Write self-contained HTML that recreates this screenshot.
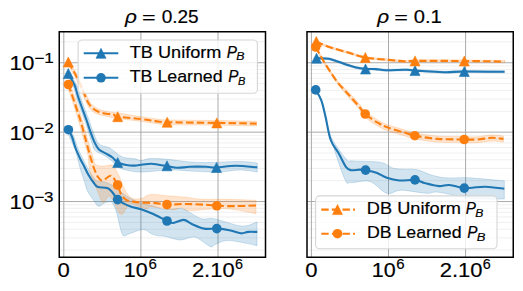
<!DOCTYPE html><html><head><meta charset="utf-8"><style>html,body{margin:0;padding:0;background:#fff;width:523px;height:291px;overflow:hidden}</style></head><body><svg width="523" height="291" viewBox="0 0 523 291" style="display:block">
<rect width="523" height="291" fill="#ffffff"/>
<line x1="59.25" x2="265.5" y1="250.06" y2="250.06" stroke="#ececec" stroke-width="0.8"/>
<line x1="59.25" x2="265.5" y1="237.84" y2="237.84" stroke="#ececec" stroke-width="0.8"/>
<line x1="59.25" x2="265.5" y1="229.17" y2="229.17" stroke="#ececec" stroke-width="0.8"/>
<line x1="59.25" x2="265.5" y1="222.44" y2="222.44" stroke="#ececec" stroke-width="0.8"/>
<line x1="59.25" x2="265.5" y1="216.95" y2="216.95" stroke="#ececec" stroke-width="0.8"/>
<line x1="59.25" x2="265.5" y1="212.30" y2="212.30" stroke="#ececec" stroke-width="0.8"/>
<line x1="59.25" x2="265.5" y1="208.28" y2="208.28" stroke="#ececec" stroke-width="0.8"/>
<line x1="59.25" x2="265.5" y1="204.73" y2="204.73" stroke="#ececec" stroke-width="0.8"/>
<line x1="59.25" x2="265.5" y1="180.66" y2="180.66" stroke="#ececec" stroke-width="0.8"/>
<line x1="59.25" x2="265.5" y1="168.44" y2="168.44" stroke="#ececec" stroke-width="0.8"/>
<line x1="59.25" x2="265.5" y1="159.77" y2="159.77" stroke="#ececec" stroke-width="0.8"/>
<line x1="59.25" x2="265.5" y1="153.04" y2="153.04" stroke="#ececec" stroke-width="0.8"/>
<line x1="59.25" x2="265.5" y1="147.55" y2="147.55" stroke="#ececec" stroke-width="0.8"/>
<line x1="59.25" x2="265.5" y1="142.90" y2="142.90" stroke="#ececec" stroke-width="0.8"/>
<line x1="59.25" x2="265.5" y1="138.88" y2="138.88" stroke="#ececec" stroke-width="0.8"/>
<line x1="59.25" x2="265.5" y1="135.33" y2="135.33" stroke="#ececec" stroke-width="0.8"/>
<line x1="59.25" x2="265.5" y1="111.26" y2="111.26" stroke="#ececec" stroke-width="0.8"/>
<line x1="59.25" x2="265.5" y1="99.04" y2="99.04" stroke="#ececec" stroke-width="0.8"/>
<line x1="59.25" x2="265.5" y1="90.37" y2="90.37" stroke="#ececec" stroke-width="0.8"/>
<line x1="59.25" x2="265.5" y1="83.64" y2="83.64" stroke="#ececec" stroke-width="0.8"/>
<line x1="59.25" x2="265.5" y1="78.15" y2="78.15" stroke="#ececec" stroke-width="0.8"/>
<line x1="59.25" x2="265.5" y1="73.50" y2="73.50" stroke="#ececec" stroke-width="0.8"/>
<line x1="59.25" x2="265.5" y1="69.48" y2="69.48" stroke="#ececec" stroke-width="0.8"/>
<line x1="59.25" x2="265.5" y1="65.93" y2="65.93" stroke="#ececec" stroke-width="0.8"/>
<line x1="59.25" x2="265.5" y1="41.86" y2="41.86" stroke="#ececec" stroke-width="0.8"/>
<line x1="59.25" x2="265.5" y1="62.75" y2="62.75" stroke="#aaaaaa" stroke-width="1"/>
<line x1="59.25" x2="265.5" y1="132.15" y2="132.15" stroke="#aaaaaa" stroke-width="1"/>
<line x1="59.25" x2="265.5" y1="201.55" y2="201.55" stroke="#aaaaaa" stroke-width="1"/>
<line x1="63.8" x2="63.8" y1="31.75" y2="257.25" stroke="#aaaaaa" stroke-width="1"/>
<line x1="140.9" x2="140.9" y1="31.75" y2="257.25" stroke="#aaaaaa" stroke-width="1"/>
<line x1="218.0" x2="218.0" y1="31.75" y2="257.25" stroke="#aaaaaa" stroke-width="1"/>
<path d="M70.00,73.00 C71.08,74.95 75.08,81.87 76.50,84.70 C77.92,87.53 77.67,87.45 78.50,90.00 C79.33,92.55 79.75,95.00 81.50,100.00 C83.25,105.00 87.17,115.00 89.00,120.00 C90.83,125.00 90.88,126.05 92.50,130.00 C94.12,133.95 95.83,140.72 98.70,143.70 C101.57,146.68 105.82,145.72 109.70,147.90 C113.58,150.08 117.78,154.98 122.00,156.80 C126.22,158.62 131.83,158.17 135.00,158.80 C138.17,159.43 138.63,160.63 141.00,160.60 C143.37,160.57 146.47,158.93 149.20,158.60 C151.93,158.27 153.93,158.43 157.40,158.60 C160.87,158.77 164.57,159.03 170.00,159.60 C175.43,160.17 183.33,161.52 190.00,162.00 C196.67,162.48 201.72,162.58 210.00,162.50 C218.28,162.42 231.82,161.42 239.70,161.50 C247.58,161.58 254.37,162.75 257.30,163.00 L257.30,172.00 C254.42,171.67 246.55,170.00 240.00,170.00 C233.45,170.00 226.33,171.83 218.00,172.00 C209.67,172.17 198.00,171.33 190.00,171.00 C182.00,170.67 178.17,169.83 170.00,170.00 C161.83,170.17 148.33,172.00 141.00,172.00 C133.67,172.00 129.83,170.83 126.00,170.00 C122.17,169.17 120.48,168.63 118.00,167.00 C115.52,165.37 113.62,162.25 111.10,160.20 C108.58,158.15 105.53,156.30 102.90,154.70 C100.27,153.10 97.12,152.55 95.30,150.60 C93.48,148.65 93.25,146.43 92.00,143.00 C90.75,139.57 89.05,133.83 87.80,130.00 C86.55,126.17 86.27,125.00 84.50,120.00 C82.73,115.00 78.87,105.00 77.20,100.00 C75.53,95.00 75.28,92.50 74.50,90.00 C73.72,87.50 73.75,87.67 72.50,85.00 C71.25,82.33 67.92,75.83 67.00,74.00 Z" fill="#1f77b4" fill-opacity="0.2" stroke="#1f77b4" stroke-opacity="0.2" stroke-width="1" stroke-linejoin="round"/>
<path d="M70.00,129.00 C70.67,130.33 72.70,133.83 74.00,137.00 C75.30,140.17 76.38,144.50 77.80,148.00 C79.22,151.50 81.13,155.17 82.50,158.00 C83.87,160.83 84.50,162.25 86.00,165.00 C87.50,167.75 89.67,171.83 91.50,174.50 C93.33,177.17 94.75,179.75 97.00,181.00 C99.25,182.25 102.50,181.33 105.00,182.00 C107.50,182.67 109.83,183.67 112.00,185.00 C114.17,186.33 115.00,187.83 118.00,190.00 C121.00,192.17 126.17,195.83 130.00,198.00 C133.83,200.17 137.17,201.67 141.00,203.00 C144.83,204.33 149.00,204.90 153.00,206.00 C157.00,207.10 160.25,209.17 165.00,209.60 C169.75,210.03 177.03,207.92 181.50,208.60 C185.97,209.28 188.37,211.98 191.80,213.70 C195.23,215.42 198.23,218.03 202.10,218.90 C205.97,219.77 208.38,217.70 215.00,218.90 C221.62,220.10 234.80,225.58 241.80,226.10 C248.80,226.62 254.47,222.68 257.00,222.00 L257.00,245.70 C255.50,245.35 252.93,244.47 248.00,243.60 C243.07,242.73 232.90,240.33 227.40,240.50 C221.90,240.67 217.83,243.57 215.00,244.60 C212.17,245.63 213.40,247.83 210.40,246.70 C207.40,245.57 200.40,239.33 197.00,237.80 C193.60,236.27 192.83,237.13 190.00,237.50 C187.17,237.87 184.17,240.18 180.00,240.00 C175.83,239.82 168.77,237.12 165.00,236.40 C161.23,235.68 159.70,236.17 157.40,235.70 C155.10,235.23 153.60,234.63 151.20,233.60 C148.80,232.57 146.63,229.48 143.00,229.50 C139.37,229.52 132.82,232.87 129.40,233.70 C125.98,234.53 124.65,238.08 122.50,234.50 C120.35,230.92 118.22,217.50 116.50,212.20 C114.78,206.90 113.63,204.42 112.20,202.70 C110.77,200.98 109.38,201.77 107.90,201.90 C106.42,202.03 104.88,202.78 103.30,203.50 C101.72,204.22 100.28,207.12 98.40,206.20 C96.52,205.28 93.90,200.70 92.00,198.00 C90.10,195.30 88.33,193.00 87.00,190.00 C85.67,187.00 85.07,183.33 84.00,180.00 C82.93,176.67 81.60,173.33 80.60,170.00 C79.60,166.67 78.88,163.33 78.00,160.00 C77.12,156.67 76.47,153.33 75.30,150.00 C74.13,146.67 72.38,143.17 71.00,140.00 C69.62,136.83 67.67,132.50 67.00,131.00 Z" fill="#1f77b4" fill-opacity="0.2" stroke="#1f77b4" stroke-opacity="0.2" stroke-width="1" stroke-linejoin="round"/>
<path d="M69.50,62.00 C70.62,63.83 74.15,69.25 76.20,73.00 C78.25,76.75 80.17,81.00 81.80,84.50 C83.43,88.00 84.58,91.00 86.00,94.00 C87.42,97.00 88.92,100.42 90.30,102.50 C91.68,104.58 92.80,105.33 94.30,106.50 C95.80,107.67 97.18,108.67 99.30,109.50 C101.42,110.33 103.93,110.92 107.00,111.50 C110.07,112.08 112.05,112.13 117.70,113.00 C123.35,113.87 134.62,115.73 140.90,116.70 C147.18,117.67 151.02,118.27 155.40,118.80 C159.78,119.33 156.97,119.60 167.20,119.90 C177.43,120.20 201.90,120.37 216.80,120.60 C231.70,120.83 249.97,121.18 256.60,121.30 L256.60,125.90 C249.97,125.78 231.70,125.42 216.80,125.20 C201.90,124.98 177.43,124.90 167.20,124.60 C156.97,124.30 159.78,123.95 155.40,123.40 C151.02,122.85 147.18,122.12 140.90,121.30 C134.62,120.48 123.52,119.35 117.70,118.50 C111.88,117.65 109.37,116.92 106.00,116.20 C102.63,115.48 99.92,115.18 97.50,114.20 C95.08,113.22 93.22,111.92 91.50,110.30 C89.78,108.68 88.58,107.02 87.20,104.50 C85.82,101.98 84.53,98.37 83.20,95.20 C81.87,92.03 80.77,88.95 79.20,85.50 C77.63,82.05 75.83,78.33 73.80,74.50 C71.77,70.67 68.13,64.50 67.00,62.50 Z" fill="#ff7f0e" fill-opacity="0.2" stroke="#ff7f0e" stroke-opacity="0.2" stroke-width="1" stroke-linejoin="round"/>
<path d="M70.00,84.00 C70.95,86.67 73.65,94.00 75.70,100.00 C77.75,106.00 80.28,113.33 82.30,120.00 C84.32,126.67 86.02,133.83 87.80,140.00 C89.58,146.17 91.63,152.83 93.00,157.00 C94.37,161.17 94.00,163.50 96.00,165.00 C98.00,166.50 102.25,165.92 105.00,166.00 C107.75,166.08 110.10,163.75 112.50,165.50 C114.90,167.25 117.75,173.25 119.40,176.50 C121.05,179.75 120.53,181.50 122.40,185.00 C124.27,188.50 127.50,195.23 130.60,197.50 C133.70,199.77 138.25,198.93 141.00,198.60 C143.75,198.27 145.05,196.20 147.10,195.50 C149.15,194.80 149.48,194.32 153.30,194.40 C157.12,194.48 164.62,195.53 170.00,196.00 C175.38,196.47 180.25,196.65 185.60,197.20 C190.95,197.75 195.53,198.95 202.10,199.30 C208.67,199.65 216.02,199.13 225.00,199.30 C233.98,199.47 250.83,200.13 256.00,200.30 L256.00,213.70 C250.83,212.85 236.05,209.12 225.00,208.60 C213.95,208.08 196.95,210.78 189.70,210.60 C182.45,210.42 184.25,207.67 181.50,207.50 C178.75,207.33 178.25,209.72 173.20,209.60 C168.15,209.48 155.55,206.92 151.20,206.80 C146.85,206.68 148.97,208.90 147.10,208.90 C145.23,208.90 142.93,207.58 140.00,206.80 C137.07,206.02 132.68,202.92 129.50,204.20 C126.32,205.48 123.77,215.37 120.90,214.50 C118.03,213.63 114.45,202.00 112.30,199.00 C110.15,196.00 109.57,195.92 108.00,196.50 C106.43,197.08 104.75,203.65 102.90,202.50 C101.05,201.35 99.05,194.68 96.90,189.60 C94.75,184.52 91.48,177.77 90.00,172.00 C88.52,166.23 89.03,160.33 88.00,155.00 C86.97,149.67 85.42,145.83 83.80,140.00 C82.18,134.17 80.27,126.67 78.30,120.00 C76.33,113.33 73.88,105.67 72.00,100.00 C70.12,94.33 67.83,88.33 67.00,86.00 Z" fill="#ff7f0e" fill-opacity="0.2" stroke="#ff7f0e" stroke-opacity="0.2" stroke-width="1" stroke-linejoin="round"/>
<path d="M68.30,73.50 C69.32,75.37 73.08,81.95 74.40,84.70 C75.72,87.45 75.40,87.45 76.20,90.00 C77.00,92.55 77.48,95.00 79.20,100.00 C80.92,105.00 84.73,115.00 86.50,120.00 C88.27,125.00 88.45,126.27 89.80,130.00 C91.15,133.73 93.12,139.20 94.60,142.40 C96.08,145.60 96.87,147.37 98.70,149.20 C100.53,151.03 103.30,152.02 105.60,153.40 C107.90,154.78 110.48,155.98 112.50,157.50 C114.52,159.02 115.42,161.25 117.70,162.50 C119.98,163.75 123.37,164.48 126.20,165.00 C129.03,165.52 132.25,165.65 134.70,165.60 C137.15,165.55 138.15,165.02 140.90,164.70 C143.65,164.38 148.27,163.70 151.20,163.70 C154.13,163.70 155.87,164.32 158.50,164.70 C161.13,165.08 163.85,165.48 167.00,166.00 C170.15,166.52 173.62,167.67 177.40,167.80 C181.18,167.93 184.90,166.97 189.70,166.80 C194.50,166.63 201.73,166.68 206.20,166.80 C210.67,166.92 211.60,167.67 216.50,167.50 C221.40,167.33 228.80,165.83 235.60,165.80 C242.40,165.77 253.68,167.05 257.30,167.30" fill="none" stroke="#1f77b4" stroke-width="2.1" stroke-linejoin="round"/>
<path d="M68.40,129.70 C69.02,130.92 70.92,133.95 72.10,137.00 C73.28,140.05 74.13,144.33 75.50,148.00 C76.87,151.67 78.97,156.17 80.30,159.00 C81.63,161.83 82.15,162.38 83.50,165.00 C84.85,167.62 86.67,171.70 88.40,174.70 C90.13,177.70 92.30,180.93 93.90,183.00 C95.50,185.07 95.78,186.28 98.00,187.10 C100.22,187.92 104.82,187.05 107.20,187.90 C109.58,188.75 110.57,190.25 112.30,192.20 C114.03,194.15 115.73,197.73 117.60,199.60 C119.47,201.47 121.23,202.20 123.50,203.40 C125.77,204.60 128.28,205.83 131.20,206.80 C134.12,207.77 137.32,208.00 141.00,209.20 C144.68,210.40 148.97,212.03 153.30,214.00 C157.63,215.97 163.68,219.50 167.00,221.00 C170.32,222.50 170.43,223.18 173.20,223.00 C175.97,222.82 180.50,219.73 183.60,219.90 C186.70,220.07 188.37,222.55 191.80,224.00 C195.23,225.45 200.03,227.83 204.20,228.60 C208.37,229.37 212.60,228.33 216.80,228.60 C221.00,228.87 225.40,229.42 229.40,230.20 C233.40,230.98 237.70,233.02 240.80,233.30 C243.90,233.58 245.25,232.13 248.00,231.90 C250.75,231.67 255.75,231.90 257.30,231.90" fill="none" stroke="#1f77b4" stroke-width="2.1" stroke-linejoin="round"/>
<path d="M68.30,62.00 C69.42,63.95 72.97,69.87 75.00,73.70 C77.03,77.53 78.90,81.52 80.50,85.00 C82.10,88.48 83.23,91.52 84.60,94.60 C85.97,97.68 87.32,101.20 88.70,103.50 C90.08,105.80 91.28,107.02 92.90,108.40 C94.52,109.78 96.12,110.90 98.40,111.80 C100.68,112.70 104.08,113.35 106.60,113.80 C109.12,114.25 111.65,114.02 113.50,114.50 C115.35,114.98 113.13,115.95 117.70,116.70 C122.27,117.45 134.62,118.27 140.90,119.00 C147.18,119.73 151.02,120.57 155.40,121.10 C159.78,121.63 156.97,121.90 167.20,122.20 C177.43,122.50 201.90,122.67 216.80,122.90 C231.70,123.13 249.97,123.48 256.60,123.60" fill="none" stroke="#ff7f0e" stroke-width="2.1" stroke-linejoin="round" stroke-dasharray="7.4,3.2"/>
<path d="M68.40,84.50 C69.28,87.08 71.72,94.08 73.70,100.00 C75.68,105.92 78.28,113.33 80.30,120.00 C82.32,126.67 83.97,133.33 85.80,140.00 C87.63,146.67 89.72,154.72 91.30,160.00 C92.88,165.28 94.07,168.72 95.30,171.70 C96.53,174.68 97.43,176.42 98.70,177.90 C99.97,179.38 100.83,180.95 102.90,180.60 C104.97,180.25 108.65,175.07 111.10,175.80 C113.55,176.53 115.97,181.98 117.60,185.00 C119.23,188.02 119.48,191.42 120.90,193.90 C122.32,196.38 124.08,198.62 126.10,199.90 C128.12,201.18 130.52,201.17 133.00,201.60 C135.48,202.03 137.27,202.25 141.00,202.50 C144.73,202.75 151.07,202.75 155.40,203.10 C159.73,203.45 161.97,204.45 167.00,204.60 C172.03,204.75 179.07,203.97 185.60,204.00 C192.13,204.03 201.00,204.50 206.20,204.80 C211.40,205.10 211.90,205.58 216.80,205.80 C221.70,206.02 229.03,206.15 235.60,206.10 C242.17,206.05 252.77,205.60 256.20,205.50" fill="none" stroke="#ff7f0e" stroke-width="2.1" stroke-linejoin="round" stroke-dasharray="7.4,3.2"/>
<polygon points="68.3,68.5 63.3,78.5 73.3,78.5" fill="#1f77b4" stroke="#1f77b4" stroke-width="0.6" stroke-linejoin="miter"/>
<polygon points="117.7,157.5 112.7,167.5 122.7,167.5" fill="#1f77b4" stroke="#1f77b4" stroke-width="0.6" stroke-linejoin="miter"/>
<polygon points="167.0,160.8 162.0,170.8 172.0,170.8" fill="#1f77b4" stroke="#1f77b4" stroke-width="0.6" stroke-linejoin="miter"/>
<polygon points="216.5,162.5 211.5,172.5 221.5,172.5" fill="#1f77b4" stroke="#1f77b4" stroke-width="0.6" stroke-linejoin="miter"/>
<circle cx="68.4" cy="129.7" r="4.8" fill="#1f77b4"/>
<circle cx="117.6" cy="199.6" r="4.8" fill="#1f77b4"/>
<circle cx="167.0" cy="221.0" r="4.8" fill="#1f77b4"/>
<circle cx="216.8" cy="228.6" r="4.8" fill="#1f77b4"/>
<polygon points="68.3,57.0 63.3,67.0 73.3,67.0" fill="#ff7f0e" stroke="#ff7f0e" stroke-width="0.6" stroke-linejoin="miter"/>
<polygon points="117.7,111.7 112.7,121.7 122.7,121.7" fill="#ff7f0e" stroke="#ff7f0e" stroke-width="0.6" stroke-linejoin="miter"/>
<polygon points="167.2,117.2 162.2,127.2 172.2,127.2" fill="#ff7f0e" stroke="#ff7f0e" stroke-width="0.6" stroke-linejoin="miter"/>
<polygon points="216.8,117.9 211.8,127.9 221.8,127.9" fill="#ff7f0e" stroke="#ff7f0e" stroke-width="0.6" stroke-linejoin="miter"/>
<circle cx="68.4" cy="84.5" r="4.8" fill="#ff7f0e"/>
<circle cx="117.6" cy="185.0" r="4.8" fill="#ff7f0e"/>
<circle cx="167.0" cy="204.6" r="4.8" fill="#ff7f0e"/>
<circle cx="216.8" cy="205.8" r="4.8" fill="#ff7f0e"/>
<rect x="78.1" y="40.0" width="179.3" height="53.2" rx="4" ry="4" fill="#ffffff" fill-opacity="0.8" stroke="#d5d5d5" stroke-width="1.1"/>
<line x1="83.7" x2="118.3" y1="53.3" y2="53.3" stroke="#1f77b4" stroke-width="2.1"/>
<polygon points="101.0,48.3 96.0,58.3 106.0,58.3" fill="#1f77b4" stroke="#1f77b4" stroke-width="0.6" stroke-linejoin="miter"/>
<line x1="83.7" x2="118.3" y1="77.8" y2="77.8" stroke="#1f77b4" stroke-width="2.1"/>
<circle cx="101.0" cy="77.8" r="4.8" fill="#1f77b4"/>
<rect x="59.25" y="31.75" width="206.25" height="225.5" fill="none" stroke="#000" stroke-width="1.5"/>
<line x1="307.0" x2="513.25" y1="250.06" y2="250.06" stroke="#ececec" stroke-width="0.8"/>
<line x1="307.0" x2="513.25" y1="237.84" y2="237.84" stroke="#ececec" stroke-width="0.8"/>
<line x1="307.0" x2="513.25" y1="229.17" y2="229.17" stroke="#ececec" stroke-width="0.8"/>
<line x1="307.0" x2="513.25" y1="222.44" y2="222.44" stroke="#ececec" stroke-width="0.8"/>
<line x1="307.0" x2="513.25" y1="216.95" y2="216.95" stroke="#ececec" stroke-width="0.8"/>
<line x1="307.0" x2="513.25" y1="212.30" y2="212.30" stroke="#ececec" stroke-width="0.8"/>
<line x1="307.0" x2="513.25" y1="208.28" y2="208.28" stroke="#ececec" stroke-width="0.8"/>
<line x1="307.0" x2="513.25" y1="204.73" y2="204.73" stroke="#ececec" stroke-width="0.8"/>
<line x1="307.0" x2="513.25" y1="180.66" y2="180.66" stroke="#ececec" stroke-width="0.8"/>
<line x1="307.0" x2="513.25" y1="168.44" y2="168.44" stroke="#ececec" stroke-width="0.8"/>
<line x1="307.0" x2="513.25" y1="159.77" y2="159.77" stroke="#ececec" stroke-width="0.8"/>
<line x1="307.0" x2="513.25" y1="153.04" y2="153.04" stroke="#ececec" stroke-width="0.8"/>
<line x1="307.0" x2="513.25" y1="147.55" y2="147.55" stroke="#ececec" stroke-width="0.8"/>
<line x1="307.0" x2="513.25" y1="142.90" y2="142.90" stroke="#ececec" stroke-width="0.8"/>
<line x1="307.0" x2="513.25" y1="138.88" y2="138.88" stroke="#ececec" stroke-width="0.8"/>
<line x1="307.0" x2="513.25" y1="135.33" y2="135.33" stroke="#ececec" stroke-width="0.8"/>
<line x1="307.0" x2="513.25" y1="111.26" y2="111.26" stroke="#ececec" stroke-width="0.8"/>
<line x1="307.0" x2="513.25" y1="99.04" y2="99.04" stroke="#ececec" stroke-width="0.8"/>
<line x1="307.0" x2="513.25" y1="90.37" y2="90.37" stroke="#ececec" stroke-width="0.8"/>
<line x1="307.0" x2="513.25" y1="83.64" y2="83.64" stroke="#ececec" stroke-width="0.8"/>
<line x1="307.0" x2="513.25" y1="78.15" y2="78.15" stroke="#ececec" stroke-width="0.8"/>
<line x1="307.0" x2="513.25" y1="73.50" y2="73.50" stroke="#ececec" stroke-width="0.8"/>
<line x1="307.0" x2="513.25" y1="69.48" y2="69.48" stroke="#ececec" stroke-width="0.8"/>
<line x1="307.0" x2="513.25" y1="65.93" y2="65.93" stroke="#ececec" stroke-width="0.8"/>
<line x1="307.0" x2="513.25" y1="41.86" y2="41.86" stroke="#ececec" stroke-width="0.8"/>
<line x1="307.0" x2="513.25" y1="62.75" y2="62.75" stroke="#aaaaaa" stroke-width="1"/>
<line x1="307.0" x2="513.25" y1="132.15" y2="132.15" stroke="#aaaaaa" stroke-width="1"/>
<line x1="307.0" x2="513.25" y1="201.55" y2="201.55" stroke="#aaaaaa" stroke-width="1"/>
<line x1="311.4" x2="311.4" y1="31.75" y2="257.25" stroke="#aaaaaa" stroke-width="1"/>
<line x1="388.5" x2="388.5" y1="31.75" y2="257.25" stroke="#aaaaaa" stroke-width="1"/>
<line x1="465.6" x2="465.6" y1="31.75" y2="257.25" stroke="#aaaaaa" stroke-width="1"/>
<path d="M316.50,57.20 C318.50,57.30 324.58,57.12 328.50,57.80 C332.42,58.48 337.08,60.35 340.00,61.30 C342.92,62.25 343.33,62.62 346.00,63.50 C348.67,64.38 352.75,65.85 356.00,66.60 C359.25,67.35 362.23,67.75 365.50,68.00 C368.77,68.25 372.20,67.90 375.60,68.10 C379.00,68.30 380.75,69.08 385.90,69.20 C391.05,69.32 401.68,68.73 406.50,68.80 C411.32,68.87 411.62,69.37 414.80,69.60 C417.98,69.83 420.37,69.93 425.60,70.20 C430.83,70.47 439.72,71.15 446.20,71.20 C452.68,71.25 454.78,70.57 464.50,70.50 C474.22,70.43 497.83,70.75 504.50,70.80 L504.50,72.80 C497.83,72.75 474.22,72.43 464.50,72.50 C454.78,72.57 452.68,73.25 446.20,73.20 C439.72,73.15 430.83,72.47 425.60,72.20 C420.37,71.93 417.98,71.83 414.80,71.60 C411.62,71.37 411.32,70.87 406.50,70.80 C401.68,70.73 391.05,71.32 385.90,71.20 C380.75,71.08 379.00,70.30 375.60,70.10 C372.20,69.90 368.77,70.25 365.50,70.00 C362.23,69.75 359.25,69.35 356.00,68.60 C352.75,67.85 348.67,66.38 346.00,65.50 C343.33,64.62 342.92,64.25 340.00,63.30 C337.08,62.35 332.42,60.48 328.50,59.80 C324.58,59.12 318.50,59.30 316.50,59.20 Z" fill="#1f77b4" fill-opacity="0.2" stroke="#1f77b4" stroke-opacity="0.2" stroke-width="1" stroke-linejoin="round"/>
<path d="M316.30,40.50 C318.18,41.33 322.28,43.65 327.60,45.50 C332.92,47.35 341.92,49.77 348.20,51.60 C354.48,53.43 358.60,55.28 365.30,56.50 C372.00,57.72 381.53,58.23 388.40,58.90 C395.27,59.57 402.15,60.33 406.50,60.50 C410.85,60.67 404.87,59.98 414.50,59.90 C424.13,59.82 449.30,59.90 464.30,60.00 C479.30,60.10 497.80,60.42 504.50,60.50 L504.50,62.50 C497.80,62.42 479.30,62.10 464.30,62.00 C449.30,61.90 424.13,61.82 414.50,61.90 C404.87,61.98 410.85,62.67 406.50,62.50 C402.15,62.33 395.27,61.57 388.40,60.90 C381.53,60.23 372.00,59.72 365.30,58.50 C358.60,57.28 354.48,55.43 348.20,53.60 C341.92,51.77 332.92,49.35 327.60,47.50 C322.28,45.65 318.18,43.33 316.30,42.50 Z" fill="#ff7f0e" fill-opacity="0.2" stroke="#ff7f0e" stroke-opacity="0.2" stroke-width="1" stroke-linejoin="round"/>
<path d="M315.70,88.50 C316.58,90.25 319.45,94.42 321.00,99.00 C322.55,103.58 323.40,109.80 325.00,116.00 C326.60,122.20 327.08,129.05 330.60,136.20 C334.12,143.35 342.32,154.78 346.10,158.90 C349.88,163.02 347.55,160.32 353.30,160.90 C359.05,161.48 373.65,161.12 380.60,162.40 C387.55,163.68 389.07,167.40 395.00,168.60 C400.93,169.80 410.27,168.58 416.20,169.60 C422.13,170.62 425.80,173.33 430.60,174.70 C435.40,176.07 438.73,177.28 445.00,177.80 C451.27,178.32 458.32,177.28 468.20,177.80 C478.08,178.32 498.28,180.38 504.30,180.90 L504.30,199.00 C498.98,198.92 483.30,199.62 472.40,198.50 C461.50,197.38 446.55,193.17 438.90,192.30 C431.25,191.43 432.78,193.65 426.50,193.30 C420.22,192.95 407.82,190.20 401.20,190.20 C394.58,190.20 392.00,194.75 386.80,193.30 C381.60,191.85 375.93,183.28 370.00,181.50 C364.07,179.72 355.37,182.93 351.20,182.60 C347.03,182.27 348.08,185.87 345.00,179.50 C341.92,173.13 335.87,154.65 332.70,144.40 C329.53,134.15 327.78,125.23 326.00,118.00 C324.22,110.77 323.67,105.50 322.00,101.00 C320.33,96.50 317.00,92.67 316.00,91.00 Z" fill="#1f77b4" fill-opacity="0.2" stroke="#1f77b4" stroke-opacity="0.2" stroke-width="1" stroke-linejoin="round"/>
<path d="M316.40,46.40 C317.10,47.73 318.93,51.43 320.60,54.40 C322.27,57.37 323.60,59.82 326.40,64.20 C329.20,68.58 333.63,75.98 337.40,80.70 C341.17,85.42 345.23,88.47 349.00,92.50 C352.77,96.53 357.30,101.78 360.00,104.90 C362.70,108.02 362.27,108.70 365.20,111.20 C368.13,113.70 373.73,117.60 377.60,119.90 C381.47,122.20 383.93,123.35 388.40,125.00 C392.87,126.65 400.00,128.48 404.40,129.80 C408.80,131.12 409.22,131.85 414.80,132.90 C420.38,133.95 429.67,135.47 437.90,136.10 C446.13,136.73 457.58,136.60 464.20,136.70 C470.82,136.80 472.97,136.98 477.60,136.70 C482.23,136.42 487.70,135.10 492.00,135.00 C496.30,134.90 501.50,135.92 503.40,136.10 L503.40,142.10 C501.50,141.92 496.30,140.90 492.00,141.00 C487.70,141.10 482.23,142.42 477.60,142.70 C472.97,142.98 470.82,142.80 464.20,142.70 C457.58,142.60 446.13,142.73 437.90,142.10 C429.67,141.47 420.38,139.95 414.80,138.90 C409.22,137.85 408.80,137.12 404.40,135.80 C400.00,134.48 392.87,132.65 388.40,131.00 C383.93,129.35 381.47,128.20 377.60,125.90 C373.73,123.60 368.53,120.30 365.20,117.20 C361.87,114.10 360.70,111.02 357.60,107.30 C354.50,103.58 350.17,99.13 346.60,94.90 C343.03,90.67 339.77,86.82 336.20,81.90 C332.63,76.98 328.00,69.78 325.20,65.40 C322.40,61.02 321.07,58.57 319.40,55.60 C317.73,52.63 315.90,48.93 315.20,47.60 Z" fill="#ff7f0e" fill-opacity="0.2" stroke="#ff7f0e" stroke-opacity="0.2" stroke-width="1" stroke-linejoin="round"/>
<path d="M316.50,58.20 C318.50,58.30 324.58,58.12 328.50,58.80 C332.42,59.48 337.08,61.35 340.00,62.30 C342.92,63.25 343.33,63.62 346.00,64.50 C348.67,65.38 352.75,66.85 356.00,67.60 C359.25,68.35 362.23,68.75 365.50,69.00 C368.77,69.25 372.20,68.90 375.60,69.10 C379.00,69.30 380.75,70.08 385.90,70.20 C391.05,70.32 401.68,69.73 406.50,69.80 C411.32,69.87 411.62,70.37 414.80,70.60 C417.98,70.83 420.37,70.93 425.60,71.20 C430.83,71.47 439.72,72.15 446.20,72.20 C452.68,72.25 454.78,71.57 464.50,71.50 C474.22,71.43 497.83,71.75 504.50,71.80" fill="none" stroke="#1f77b4" stroke-width="2.1" stroke-linejoin="round"/>
<path d="M315.70,89.90 C316.65,91.68 319.75,96.07 321.40,100.60 C323.05,105.13 324.05,110.53 325.60,117.10 C327.15,123.67 328.48,133.90 330.70,140.00 C332.92,146.10 336.33,149.18 338.90,153.70 C341.47,158.22 344.05,164.35 346.10,167.10 C348.15,169.85 348.97,169.78 351.20,170.20 C353.43,170.62 357.10,169.62 359.50,169.60 C361.90,169.58 362.77,169.58 365.60,170.10 C368.43,170.62 372.97,171.42 376.50,172.70 C380.03,173.98 383.02,176.50 386.80,177.80 C390.58,179.10 394.50,180.15 399.20,180.50 C403.90,180.85 410.80,179.48 415.00,179.90 C419.20,180.32 420.42,181.97 424.40,183.00 C428.38,184.03 434.77,185.77 438.90,186.10 C443.03,186.43 444.97,184.67 449.20,185.00 C453.43,185.33 460.43,187.65 464.30,188.10 C468.17,188.55 468.82,187.93 472.40,187.70 C475.98,187.47 480.48,186.52 485.80,186.70 C491.12,186.88 501.22,188.45 504.30,188.80" fill="none" stroke="#1f77b4" stroke-width="2.1" stroke-linejoin="round"/>
<path d="M316.30,41.50 C318.18,42.33 322.28,44.65 327.60,46.50 C332.92,48.35 341.92,50.77 348.20,52.60 C354.48,54.43 358.60,56.28 365.30,57.50 C372.00,58.72 381.53,59.23 388.40,59.90 C395.27,60.57 402.15,61.33 406.50,61.50 C410.85,61.67 404.87,60.98 414.50,60.90 C424.13,60.82 449.30,60.90 464.30,61.00 C479.30,61.10 497.80,61.42 504.50,61.50" fill="none" stroke="#ff7f0e" stroke-width="2.1" stroke-linejoin="round" stroke-dasharray="7.4,3.2"/>
<path d="M315.80,47.00 C316.50,48.33 318.33,52.03 320.00,55.00 C321.67,57.97 323.00,60.42 325.80,64.80 C328.60,69.18 333.13,76.48 336.80,81.30 C340.47,86.12 344.13,89.57 347.80,93.70 C351.47,97.83 355.90,102.72 358.80,106.10 C361.70,109.48 362.07,111.23 365.20,114.00 C368.33,116.77 373.73,120.40 377.60,122.70 C381.47,125.00 383.93,126.15 388.40,127.80 C392.87,129.45 400.00,131.28 404.40,132.60 C408.80,133.92 409.22,134.65 414.80,135.70 C420.38,136.75 429.67,138.27 437.90,138.90 C446.13,139.53 457.58,139.40 464.20,139.50 C470.82,139.60 472.97,139.78 477.60,139.50 C482.23,139.22 487.70,137.90 492.00,137.80 C496.30,137.70 501.50,138.72 503.40,138.90" fill="none" stroke="#ff7f0e" stroke-width="2.1" stroke-linejoin="round" stroke-dasharray="7.4,3.2"/>
<polygon points="316.5,53.2 311.5,63.2 321.5,63.2" fill="#1f77b4" stroke="#1f77b4" stroke-width="0.6" stroke-linejoin="miter"/>
<polygon points="365.5,64.0 360.5,74.0 370.5,74.0" fill="#1f77b4" stroke="#1f77b4" stroke-width="0.6" stroke-linejoin="miter"/>
<polygon points="415.0,65.6 410.0,75.6 420.0,75.6" fill="#1f77b4" stroke="#1f77b4" stroke-width="0.6" stroke-linejoin="miter"/>
<polygon points="464.3,66.5 459.3,76.5 469.3,76.5" fill="#1f77b4" stroke="#1f77b4" stroke-width="0.6" stroke-linejoin="miter"/>
<circle cx="315.7" cy="89.9" r="4.8" fill="#1f77b4"/>
<circle cx="365.6" cy="170.1" r="4.8" fill="#1f77b4"/>
<circle cx="415.0" cy="179.9" r="4.8" fill="#1f77b4"/>
<circle cx="464.3" cy="188.1" r="4.8" fill="#1f77b4"/>
<polygon points="316.3,36.5 311.3,46.5 321.3,46.5" fill="#ff7f0e" stroke="#ff7f0e" stroke-width="0.6" stroke-linejoin="miter"/>
<polygon points="365.3,52.5 360.3,62.5 370.3,62.5" fill="#ff7f0e" stroke="#ff7f0e" stroke-width="0.6" stroke-linejoin="miter"/>
<polygon points="415.0,55.9 410.0,65.9 420.0,65.9" fill="#ff7f0e" stroke="#ff7f0e" stroke-width="0.6" stroke-linejoin="miter"/>
<polygon points="464.3,56.0 459.3,66.0 469.3,66.0" fill="#ff7f0e" stroke="#ff7f0e" stroke-width="0.6" stroke-linejoin="miter"/>
<circle cx="315.8" cy="47.0" r="4.8" fill="#ff7f0e"/>
<circle cx="365.2" cy="114.0" r="4.8" fill="#ff7f0e"/>
<circle cx="414.8" cy="135.7" r="4.8" fill="#ff7f0e"/>
<circle cx="464.2" cy="139.5" r="4.8" fill="#ff7f0e"/>
<rect x="315.6" y="195.9" width="181.4" height="52.9" rx="4" ry="4" fill="#ffffff" fill-opacity="0.8" stroke="#d5d5d5" stroke-width="1.1"/>
<line x1="321.3" x2="355" y1="209.6" y2="209.6" stroke="#ff7f0e" stroke-width="2.1" stroke-dasharray="7.4,3.2"/>
<polygon points="337.5,204.6 332.5,214.6 342.5,214.6" fill="#ff7f0e" stroke="#ff7f0e" stroke-width="0.6" stroke-linejoin="miter"/>
<line x1="321.3" x2="355" y1="233.7" y2="233.7" stroke="#ff7f0e" stroke-width="2.1" stroke-dasharray="7.4,3.2"/>
<circle cx="337.5" cy="233.7" r="4.8" fill="#ff7f0e"/>
<rect x="307.0" y="31.75" width="206.25" height="225.5" fill="none" stroke="#000" stroke-width="1.5"/>
<text transform="translate(124.91,22.87) scale(1.1057,1)" font-family="Liberation Sans, sans-serif" font-size="18.73" font-style="italic" fill="#000" stroke="#000" stroke-width="0.181">ρ</text>
<text transform="translate(142.03,22.66) scale(1.4933,1)" font-family="Liberation Sans, sans-serif" font-size="15.63" font-style="normal" fill="#000" stroke="#000" stroke-width="0.134">=</text>
<text transform="translate(161.64,22.81) scale(1.0160,1)" font-family="Liberation Sans, sans-serif" font-size="18.73" font-style="normal" fill="#000" stroke="#000" stroke-width="0.197">0.25</text>
<text transform="translate(377.31,22.80) scale(1.0864,1)" font-family="Liberation Sans, sans-serif" font-size="19.07" font-style="italic" fill="#000" stroke="#000" stroke-width="0.184">ρ</text>
<text transform="translate(394.23,22.66) scale(1.4933,1)" font-family="Liberation Sans, sans-serif" font-size="15.63" font-style="normal" fill="#000" stroke="#000" stroke-width="0.134">=</text>
<text transform="translate(413.79,23.01) scale(1.0679,1)" font-family="Liberation Sans, sans-serif" font-size="18.87" font-style="normal" fill="#000" stroke="#000" stroke-width="0.187">0.1</text>
<text transform="translate(57.42,276.70) scale(1.0813,1)" font-family="Liberation Sans, sans-serif" font-size="20.42" font-style="normal" fill="#000" stroke="#000" stroke-width="0.185">0</text>
<text transform="translate(123.78,276.70) scale(1.0535,1)" font-family="Liberation Sans, sans-serif" font-size="20.42" font-style="normal" fill="#000" stroke="#000" stroke-width="0.190">10</text>
<text transform="translate(148.45,269.36) scale(1.0650,1)" font-family="Liberation Sans, sans-serif" font-size="14.08" font-style="normal" fill="#000" stroke="#000" stroke-width="0.188">6</text>
<text transform="translate(191.90,276.70) scale(1.0741,1)" font-family="Liberation Sans, sans-serif" font-size="20.42" font-style="normal" fill="#000" stroke="#000" stroke-width="0.186">2.10</text>
<text transform="translate(234.88,269.36) scale(1.0187,1)" font-family="Liberation Sans, sans-serif" font-size="14.08" font-style="normal" fill="#000" stroke="#000" stroke-width="0.196">6</text>
<text transform="translate(305.32,276.70) scale(1.0813,1)" font-family="Liberation Sans, sans-serif" font-size="20.42" font-style="normal" fill="#000" stroke="#000" stroke-width="0.185">0</text>
<text transform="translate(371.68,276.70) scale(1.0535,1)" font-family="Liberation Sans, sans-serif" font-size="20.42" font-style="normal" fill="#000" stroke="#000" stroke-width="0.190">10</text>
<text transform="translate(396.35,269.36) scale(1.0650,1)" font-family="Liberation Sans, sans-serif" font-size="14.08" font-style="normal" fill="#000" stroke="#000" stroke-width="0.188">6</text>
<text transform="translate(439.80,276.70) scale(1.0741,1)" font-family="Liberation Sans, sans-serif" font-size="20.42" font-style="normal" fill="#000" stroke="#000" stroke-width="0.186">2.10</text>
<text transform="translate(482.78,269.36) scale(1.0187,1)" font-family="Liberation Sans, sans-serif" font-size="14.08" font-style="normal" fill="#000" stroke="#000" stroke-width="0.196">6</text>
<text transform="translate(9.51,69.90) scale(1.0931,1)" font-family="Liberation Sans, sans-serif" font-size="20.42" font-style="normal" fill="#000" stroke="#000" stroke-width="0.183">10</text>
<text transform="translate(34.14,63.10) scale(1.1929,1)" font-family="Liberation Sans, sans-serif" font-size="14.35" font-style="normal" fill="#000" stroke="#000" stroke-width="0.168">−1</text>
<text transform="translate(9.51,139.60) scale(1.0931,1)" font-family="Liberation Sans, sans-serif" font-size="20.42" font-style="normal" fill="#000" stroke="#000" stroke-width="0.183">10</text>
<text transform="translate(34.14,132.80) scale(1.2102,1)" font-family="Liberation Sans, sans-serif" font-size="14.14" font-style="normal" fill="#000" stroke="#000" stroke-width="0.165">−2</text>
<text transform="translate(9.51,208.80) scale(1.0931,1)" font-family="Liberation Sans, sans-serif" font-size="20.42" font-style="normal" fill="#000" stroke="#000" stroke-width="0.183">10</text>
<text transform="translate(34.15,201.86) scale(1.2158,1)" font-family="Liberation Sans, sans-serif" font-size="13.94" font-style="normal" fill="#000" stroke="#000" stroke-width="0.165">−3</text>
<text transform="translate(129.74,57.60) scale(1.0795,1)" font-family="Liberation Sans, sans-serif" font-size="16.81" font-style="normal" fill="#000" stroke="#000" stroke-width="0.185">TB Uniform</text>
<text transform="translate(226.64,57.80) scale(0.9064,1)" font-family="Liberation Sans, sans-serif" font-size="16.81" font-style="italic" fill="#000" stroke="#000" stroke-width="0.221">P</text>
<text transform="translate(236.33,60.40) scale(1.0910,1)" font-family="Liberation Sans, sans-serif" font-size="11.30" font-style="italic" fill="#000" stroke="#000" stroke-width="0.183">B</text>
<text transform="translate(129.74,82.20) scale(1.0487,1)" font-family="Liberation Sans, sans-serif" font-size="16.96" font-style="normal" fill="#000" stroke="#000" stroke-width="0.191">TB Learned</text>
<text transform="translate(228.24,82.40) scale(0.8987,1)" font-family="Liberation Sans, sans-serif" font-size="16.96" font-style="italic" fill="#000" stroke="#000" stroke-width="0.223">P</text>
<text transform="translate(237.97,85.00) scale(0.9731,1)" font-family="Liberation Sans, sans-serif" font-size="11.30" font-style="italic" fill="#000" stroke="#000" stroke-width="0.206">B</text>
<text transform="translate(366.84,213.80) scale(1.1318,1)" font-family="Liberation Sans, sans-serif" font-size="16.09" font-style="normal" fill="#000" stroke="#000" stroke-width="0.177">DB Uniform</text>
<text transform="translate(465.64,214.00) scale(0.9472,1)" font-family="Liberation Sans, sans-serif" font-size="16.09" font-style="italic" fill="#000" stroke="#000" stroke-width="0.211">P</text>
<text transform="translate(475.34,216.60) scale(1.0763,1)" font-family="Liberation Sans, sans-serif" font-size="11.30" font-style="italic" fill="#000" stroke="#000" stroke-width="0.186">B</text>
<text transform="translate(366.88,238.00) scale(1.0567,1)" font-family="Liberation Sans, sans-serif" font-size="16.81" font-style="normal" fill="#000" stroke="#000" stroke-width="0.189">DB Learned</text>
<text transform="translate(467.14,238.20) scale(0.9064,1)" font-family="Liberation Sans, sans-serif" font-size="16.81" font-style="italic" fill="#000" stroke="#000" stroke-width="0.221">P</text>
<text transform="translate(476.81,240.80) scale(1.1500,1)" font-family="Liberation Sans, sans-serif" font-size="11.30" font-style="italic" fill="#000" stroke="#000" stroke-width="0.174">B</text>
</svg></body></html>
